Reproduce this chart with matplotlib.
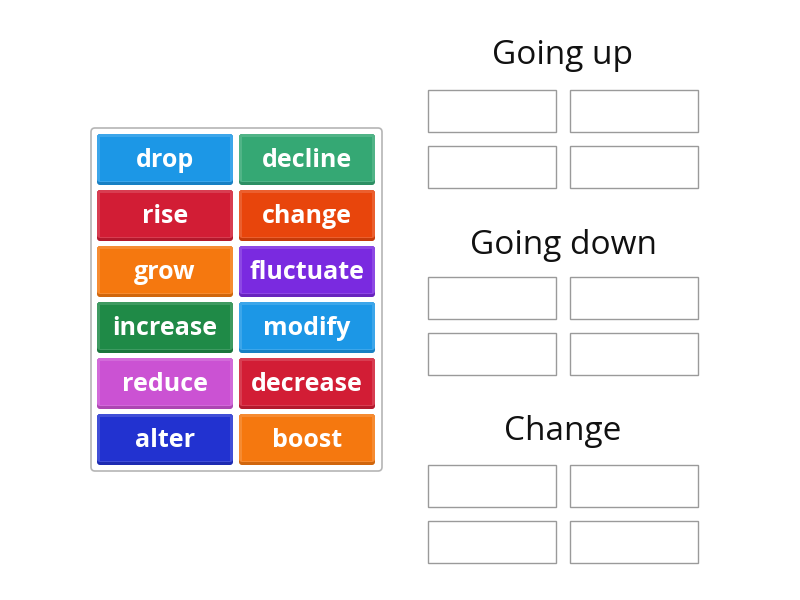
import matplotlib.pyplot as plt
from matplotlib.patches import FancyBboxPatch, Rectangle

# word tiles, read row by row (left, right)
words = ["drop", "decline", "rise", "change", "grow", "fluctuate",
         "increase", "modify", "reduce", "decrease", "alter", "boost"]
tile_colors = ["#1c97e6", "#35a874", "#d21d35", "#e8450c", "#f5780f", "#7a2ae0",
               "#1f8a47", "#1c97e6", "#cb52d3", "#d21d35", "#2232d0", "#f5780f"]

# group headings on the right
groups = ["Going up", "Going down", "Change"]
group_title_y = [56, 245, 432]
group_slot_y = [[90, 146], [277, 333], [465, 521]]


def shade(hex_color, f):
    c = [int(hex_color[i:i + 2], 16) / 255 for i in (1, 3, 5)]
    if f > 0:
        c = [v + (1 - v) * f for v in c]
    else:
        c = [v * (1 + f) for v in c]
    return c


fig = plt.figure(figsize=(8, 6), dpi=100)
ax = fig.add_axes([0, 0, 1, 1])
ax.set_xlim(0, 800)
ax.set_ylim(600, 0)
ax.axis("off")

# container around the tiles
ax.add_patch(FancyBboxPatch((91, 128), 291, 343, boxstyle="round,pad=0,rounding_size=4",
                            facecolor="white", edgecolor="#b5b5b5", lw=1.2))

tile_w, tile_h = 136, 51
for i, (word, col) in enumerate(zip(words, tile_colors)):
    x = 97 + (i % 2) * 142
    y = 134 + (i // 2) * 56
    # darker base (bottom edge), lighter rim, main face
    ax.add_patch(FancyBboxPatch((x, y), tile_w, tile_h, boxstyle="round,pad=0,rounding_size=3",
                                facecolor=shade(col, -0.15), edgecolor="none"))
    ax.add_patch(FancyBboxPatch((x, y), tile_w, tile_h - 3, boxstyle="round,pad=0,rounding_size=3",
                                facecolor=shade(col, 0.14), edgecolor="none"))
    ax.add_patch(Rectangle((x + 3, y + 3), tile_w - 6, tile_h - 7,
                           facecolor=col, edgecolor="none"))
    ax.text(x + tile_w / 2, y + tile_h / 2 + 1, word, color="white", fontsize=18,
            fontweight="bold", family="Open Sans", ha="center", va="center")

for name, ty, rows in zip(groups, group_title_y, group_slot_y):
    ax.text(563, ty, name, fontsize=24, family="Open Sans", color="#111111",
            ha="center", va="center")
    for ry in rows:
        for rx in (428, 570):
            ax.add_patch(Rectangle((rx, ry), 128, 42, facecolor="white",
                                   edgecolor="#9a9a9a", lw=1))

fig.savefig("out.png", dpi=100)
